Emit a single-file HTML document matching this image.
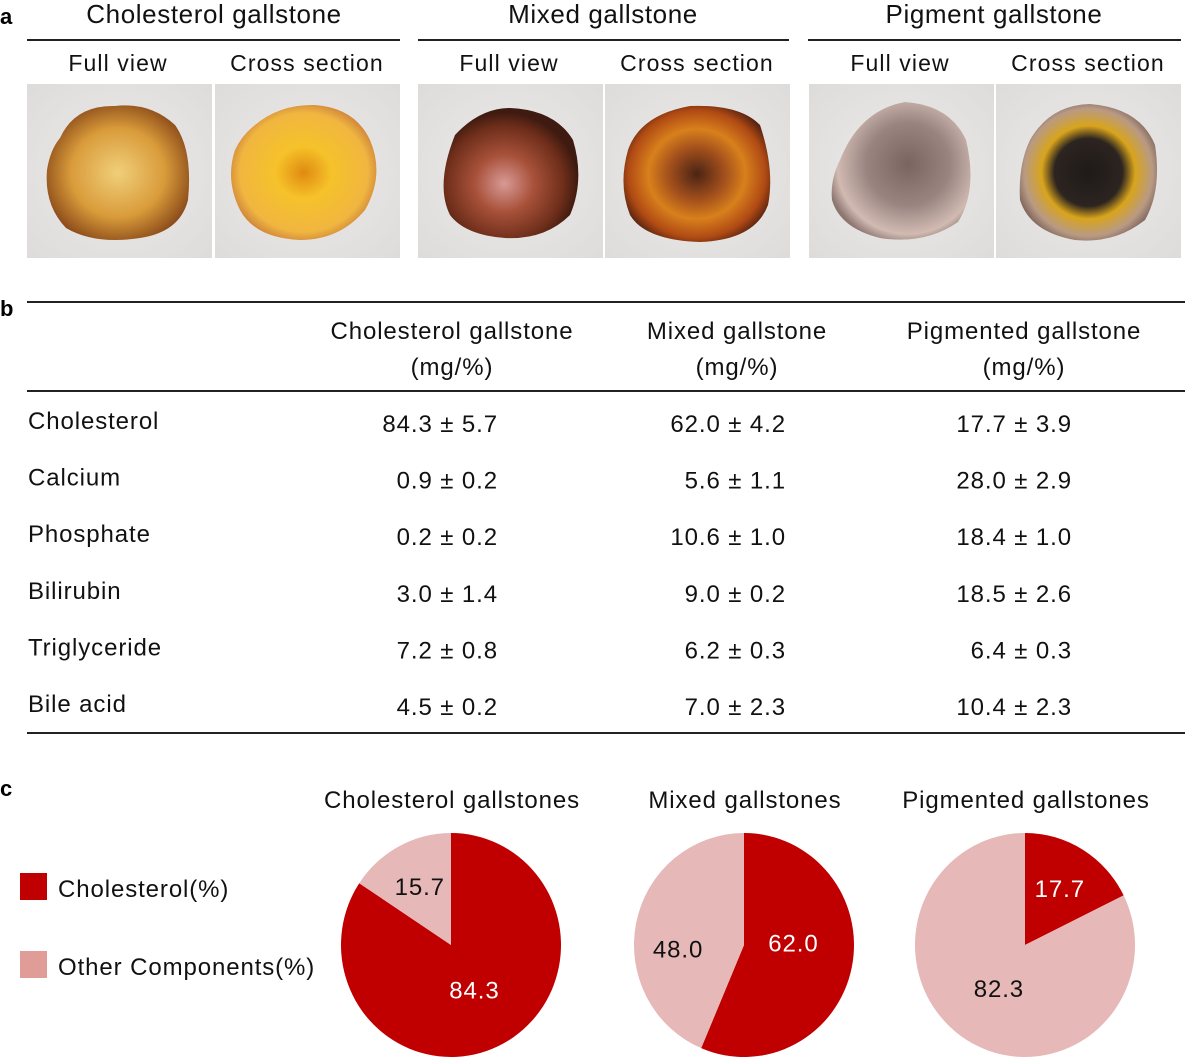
<!DOCTYPE html>
<html><head><meta charset="utf-8">
<style>
html,body{margin:0;padding:0;background:#fff;}
svg{display:block;font-family:"Liberation Sans",Arial,sans-serif;}
.t{letter-spacing:0.9px;}
</style></head>
<body>
<svg id="fig" width="1200" height="1063" viewBox="0 0 1200 1063">
<defs>
<radialGradient id="bg" cx="50%" cy="50%" r="70%"><stop offset="0" stop-color="#ecebea"/><stop offset="1" stop-color="#dedcda"/></radialGradient>
<radialGradient id="s1" cx="50%" cy="50%" r="55%"><stop offset="0" stop-color="#f0cf7a"/><stop offset="0.6" stop-color="#d99b3a"/><stop offset="1" stop-color="#8a4a1a"/></radialGradient>
<radialGradient id="s2" cx="50%" cy="50%" r="55%"><stop offset="0" stop-color="#e08a10"/><stop offset="0.35" stop-color="#f6c22a"/><stop offset="0.8" stop-color="#f0b640"/><stop offset="1" stop-color="#c87a3a"/></radialGradient>
<radialGradient id="s3" cx="45%" cy="58%" r="55%"><stop offset="0" stop-color="#d89a96"/><stop offset="0.4" stop-color="#a8513a"/><stop offset="0.8" stop-color="#6e2e1a"/><stop offset="1" stop-color="#3e1a10"/></radialGradient>
<radialGradient id="s4" cx="50%" cy="50%" r="55%"><stop offset="0" stop-color="#4a2414"/><stop offset="0.35" stop-color="#a4501c"/><stop offset="0.6" stop-color="#d8801c"/><stop offset="0.85" stop-color="#b04a14"/><stop offset="1" stop-color="#5a2410"/></radialGradient>
<radialGradient id="s5" cx="55%" cy="45%" r="60%"><stop offset="0" stop-color="#7a6460"/><stop offset="0.5" stop-color="#9a8480"/><stop offset="0.85" stop-color="#d0bab2"/><stop offset="1" stop-color="#8e7670"/></radialGradient>
<radialGradient id="s6" cx="50%" cy="50%" r="55%"><stop offset="0" stop-color="#1e1a18"/><stop offset="0.45" stop-color="#2c2420"/><stop offset="0.62" stop-color="#d8a41c"/><stop offset="0.85" stop-color="#b89a84"/><stop offset="1" stop-color="#7a6058"/></radialGradient>
</defs>

<!-- Panel a -->
<text x="0" y="24" font-size="22" font-weight="bold">a</text>
<g font-size="26" text-anchor="middle" fill="#111" style="letter-spacing:0.6px">
<text x="214" y="23">Cholesterol gallstone</text>
<text x="603" y="23">Mixed gallstone</text>
<text x="994" y="23">Pigment gallstone</text>
</g>
<g stroke="#222" stroke-width="2">
<line x1="27" y1="40" x2="400" y2="40"/>
<line x1="418" y1="40" x2="789" y2="40"/>
<line x1="808" y1="40" x2="1181" y2="40"/>
</g>
<g font-size="23" text-anchor="middle" fill="#111" style="letter-spacing:1.1px">
<text x="118" y="71">Full view</text>
<text x="307" y="71">Cross section</text>
<text x="509" y="71">Full view</text>
<text x="697" y="71">Cross section</text>
<text x="900" y="71">Full view</text>
<text x="1088" y="71">Cross section</text>
</g>
<g>
<rect x="27" y="84" width="185" height="174" fill="url(#bg)"/>
<rect x="215" y="84" width="185" height="174" fill="url(#bg)"/>
<rect x="418" y="84" width="185" height="174" fill="url(#bg)"/>
<rect x="605" y="84" width="185" height="174" fill="url(#bg)"/>
<rect x="809" y="84" width="185" height="174" fill="url(#bg)"/>
<rect x="996" y="84" width="185" height="174" fill="url(#bg)"/>
<path d="M60,138 Q75,105 115,106 Q150,102 175,125 Q193,150 188,200 Q180,232 140,238 Q95,245 66,228 Q44,205 47,170 Q50,150 60,138Z" fill="url(#s1)"/>
<path d="M255,125 Q280,104 315,105 Q355,108 370,140 Q385,175 365,210 Q340,240 300,240 Q255,238 240,210 Q225,180 235,150 Q242,135 255,125Z" fill="url(#s2)"/>
<path d="M455,135 Q480,108 510,108 Q555,110 573,140 Q585,180 570,215 Q545,240 505,238 Q465,235 450,215 Q435,185 455,135Z" fill="url(#s3)"/>
<path d="M628,150 Q640,115 690,106 Q740,104 760,125 Q775,170 768,205 Q755,240 700,242 Q645,240 630,215 Q618,185 628,150Z" fill="url(#s4)"/>
<path d="M840,160 Q860,110 905,102 Q950,105 966,140 Q978,190 958,222 Q925,245 880,238 Q840,228 832,200 Q830,180 840,160Z" fill="url(#s5)"/>
<path d="M1030,140 Q1050,105 1090,104 Q1140,108 1155,145 Q1162,190 1145,220 Q1115,244 1075,240 Q1030,232 1020,200 Q1018,165 1030,140Z" fill="url(#s6)"/>
</g>

<!-- Panel b -->
<text x="0" y="316" font-size="22" font-weight="bold">b</text>
<g stroke="#222" stroke-width="2">
<line x1="27" y1="302" x2="1185" y2="302"/>
<line x1="27" y1="391" x2="1185" y2="391"/>
<line x1="27" y1="733" x2="1185" y2="733"/>
</g>
<g font-size="24" text-anchor="middle" fill="#111" class="t">
<text x="452" y="339">Cholesterol gallstone</text>
<text x="452" y="375">(mg/%)</text>
<text x="737" y="339">Mixed gallstone</text>
<text x="737" y="375">(mg/%)</text>
<text x="1024" y="339">Pigmented gallstone</text>
<text x="1024" y="375">(mg/%)</text>
</g>
<g id="tbody" font-size="24" fill="#111" class="t"></g>

<!-- Panel c -->
<text x="0" y="796" font-size="22" font-weight="bold">c</text>
<rect x="20" y="873" width="27" height="27" fill="#c00000"/>
<text x="58" y="897" font-size="24" fill="#111" class="t">Cholesterol(%)</text>
<rect x="20" y="951" width="27" height="27" fill="#e09c96"/>
<text x="58" y="975" font-size="24" fill="#111" class="t">Other Components(%)</text>
<g id="pies" class="t"></g>
</svg>
<script>
const rowLabels = ["Cholesterol","Calcium","Phosphate","Bilirubin","Triglyceride","Bile acid"];
const cholValues = ["84.3 ± 5.7","0.9 ± 0.2","0.2 ± 0.2","3.0 ± 1.4","7.2 ± 0.8","4.5 ± 0.2"];
const mixedValues = ["62.0 ± 4.2","5.6 ± 1.1","10.6 ± 1.0","9.0 ± 0.2","6.2 ± 0.3","7.0 ± 2.3"];
const pigValues = ["17.7 ± 3.9","28.0 ± 2.9","18.4 ± 1.0","18.5 ± 2.6","6.4 ± 0.3","10.4 ± 2.3"];

const pieTitles = ["Cholesterol gallstones","Mixed gallstones","Pigmented gallstones"];
const pieCholesterol = [84.3, 62.0, 17.7];
const pieOther = [15.7, 48.0, 82.3];

const NS = "http://www.w3.org/2000/svg";
function mk(tag, attrs, parent){const e=document.createElementNS(NS,tag);for(const k in attrs)e.setAttribute(k,attrs[k]);parent.appendChild(e);return e;}

const tbody = document.getElementById('tbody');
const colRight = [498, 786, 1072];
const cols = [cholValues, mixedValues, pigValues];
const colNames = ['cholesterol','mixed','pigmented'];
rowLabels.forEach((lab,i)=>{
  const y = 429 + i*56.6;
  const t = mk('text',{x:28,y:y},tbody);
  t.textContent = lab;
  
  
  cols.forEach((arr,j)=>{
    const c = mk('text',{x:colRight[j],y:y+3,'text-anchor':'end'},tbody);
    c.textContent = arr[i];
    
    
  });
});

const pies = document.getElementById('pies');
const centersX = [451, 744, 1025];
const cy = 945, rx = 110, ry = 112;
function pt(cx, frac, k){const a = frac*2*Math.PI; return [cx + rx*k*Math.sin(a), cy - ry*k*Math.cos(a)];}
function slice(cx, f0, f1){
  const p0 = pt(cx,f0,1), p1 = pt(cx,f1,1);
  const large = (f1-f0) > 0.5 ? 1 : 0;
  return `M${cx},${cy} L${p0[0]},${p0[1]} A${rx},${ry} 0 ${large} 1 ${p1[0]},${p1[1]} Z`;
}
function labelRadius(f){ return f > 0.5 ? 0.45 : 0.6; }
pieTitles.forEach((title,i)=>{
  const cx = centersX[i];
  const tt = mk('text',{x:cx+1,y:808,'font-size':24,'text-anchor':'middle',fill:'#111'},pies);
  tt.textContent = title;
  
  
  const total = pieCholesterol[i] + pieOther[i];
  const fc = pieCholesterol[i]/total;
  const red = mk('path',{d:slice(cx,0,fc),fill:'#c00000'},pies);
  
  
  const pink = mk('path',{d:slice(cx,fc,1),fill:'#e6b8b7'},pies);
  
  
  const fo = 1 - fc;
  const aC = fc/2, aO = fc + fo/2;
  const lc = pt(cx, aC + (fc>0.5 && fc<0.7 ? -0.04 : 0), labelRadius(fc));
  const l1 = mk('text',{x:lc[0],y:lc[1]+9,'font-size':24,'text-anchor':'middle',fill:'#fff'},pies);
  l1.textContent = pieCholesterol[i].toFixed(1);
  
  
  const lo = pt(cx, aO + (fo<0.5 && fo>0.3 ? -0.04 : 0), labelRadius(fo));
  const l2 = mk('text',{x:lo[0],y:lo[1]+9,'font-size':24,'text-anchor':'middle',fill:'#111'},pies);
  l2.textContent = pieOther[i].toFixed(1);
  
  
});
</script>
</body></html>
